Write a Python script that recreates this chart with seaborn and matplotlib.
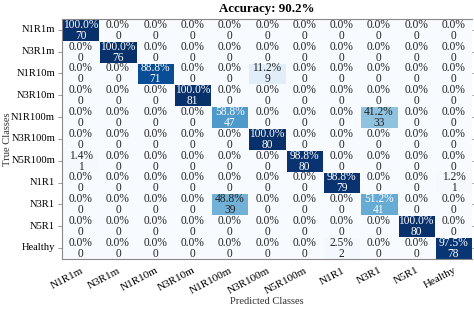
import numpy as np
import pandas as pd
import seaborn as sns
import matplotlib.pyplot as plt

classes = ['N1R1m', 'N3R1m', 'N1R10m', 'N3R10m', 'N1R100m', 'N3R100m',
           'N5R100m', 'N1R1', 'N3R1', 'N5R1', 'Healthy']

# counts (rows = true, cols = predicted)
counts = [
    [70, 0, 0, 0, 0, 0, 0, 0, 0, 0, 0],
    [0, 76, 0, 0, 0, 0, 0, 0, 0, 0, 0],
    [0, 0, 71, 0, 0, 9, 0, 0, 0, 0, 0],
    [0, 0, 0, 81, 0, 0, 0, 0, 0, 0, 0],
    [0, 0, 0, 0, 47, 0, 0, 0, 33, 0, 0],
    [0, 0, 0, 0, 0, 80, 0, 0, 0, 0, 0],
    [1, 0, 0, 0, 0, 0, 80, 0, 0, 0, 0],
    [0, 0, 0, 0, 0, 0, 0, 79, 0, 0, 1],
    [0, 0, 0, 0, 39, 0, 0, 0, 41, 0, 0],
    [0, 0, 0, 0, 0, 0, 0, 0, 0, 80, 0],
    [0, 0, 0, 0, 0, 0, 0, 2, 0, 0, 78],
]

# percentages as printed in the chart
percents = [
    [100.0, 0, 0, 0, 0, 0, 0, 0, 0, 0, 0],
    [0, 100.0, 0, 0, 0, 0, 0, 0, 0, 0, 0],
    [0, 0, 88.8, 0, 0, 11.2, 0, 0, 0, 0, 0],
    [0, 0, 0, 100.0, 0, 0, 0, 0, 0, 0, 0],
    [0, 0, 0, 0, 58.8, 0, 0, 0, 41.2, 0, 0],
    [0, 0, 0, 0, 0, 100.0, 0, 0, 0, 0, 0],
    [1.4, 0, 0, 0, 0, 0, 98.8, 0, 0, 0, 0],
    [0, 0, 0, 0, 0, 0, 0, 98.8, 0, 0, 1.2],
    [0, 0, 0, 0, 48.8, 0, 0, 0, 51.2, 0, 0],
    [0, 0, 0, 0, 0, 0, 0, 0, 0, 100.0, 0],
    [0, 0, 0, 0, 0, 0, 0, 2.5, 0, 0, 97.5],
]

accuracy = 90.2

pct = pd.DataFrame(percents, index=classes, columns=classes)

plt.rcParams['font.family'] = ['Liberation Serif', 'DejaVu Serif']

fig = plt.figure(figsize=(4.74, 3.10), dpi=100)
ax = fig.add_axes([0.131, 0.165, 0.865, 0.774])

sns.heatmap(pct, annot=False, cmap='Blues', vmin=0, vmax=100, cbar=False,
            linewidths=0.7, linecolor='#f7fbff', ax=ax)

for i in range(len(classes)):
    for j in range(len(classes)):
        p = percents[i][j]
        col = 'white' if p >= 50 else '#222222'
        ax.text(j + 0.5, i + 0.27, f"{p:.1f}%", ha='center', va='center',
                fontsize=8.3, color=col)
        ax.text(j + 0.5, i + 0.77, f"{counts[i][j]}", ha='center',
                va='center', fontsize=8.3, color=col)

for s in ['top', 'left', 'bottom']:
    ax.spines[s].set_visible(True)
    ax.spines[s].set_color('#888888')
    ax.spines[s].set_linewidth(0.8)

ax.set_xticks(np.arange(len(classes)) + 0.5)
ax.set_xticklabels(classes, rotation=28, ha='right', rotation_mode='anchor',
                   fontsize=8)
ax.set_yticks(np.arange(len(classes)) + 0.5)
ax.set_yticklabels(classes, rotation=0, fontsize=7.6)
ax.tick_params(axis='y', length=3, color='#888888', width=0.6,
               right=True, direction='out', pad=2)
ax.tick_params(axis='x', length=0, pad=5)

ax.set_xlabel('Predicted Classes', fontsize=7.6, color='#333333')
ax.xaxis.set_label_coords(0.563, 1 - 302 / 310, transform=fig.transFigure)
ax.xaxis.label.set_va('center')
ax.set_ylabel('True Classes', fontsize=7.6, color='#333333')
ax.yaxis.set_label_coords(8 / 474, 1 - 139 / 310, transform=fig.transFigure)
ax.yaxis.label.set_va('center')
ax.set_title(f'Accuracy: {accuracy}%', fontsize=9.3, fontweight='bold',
             pad=5)

fig.savefig('out.png', dpi=100)
